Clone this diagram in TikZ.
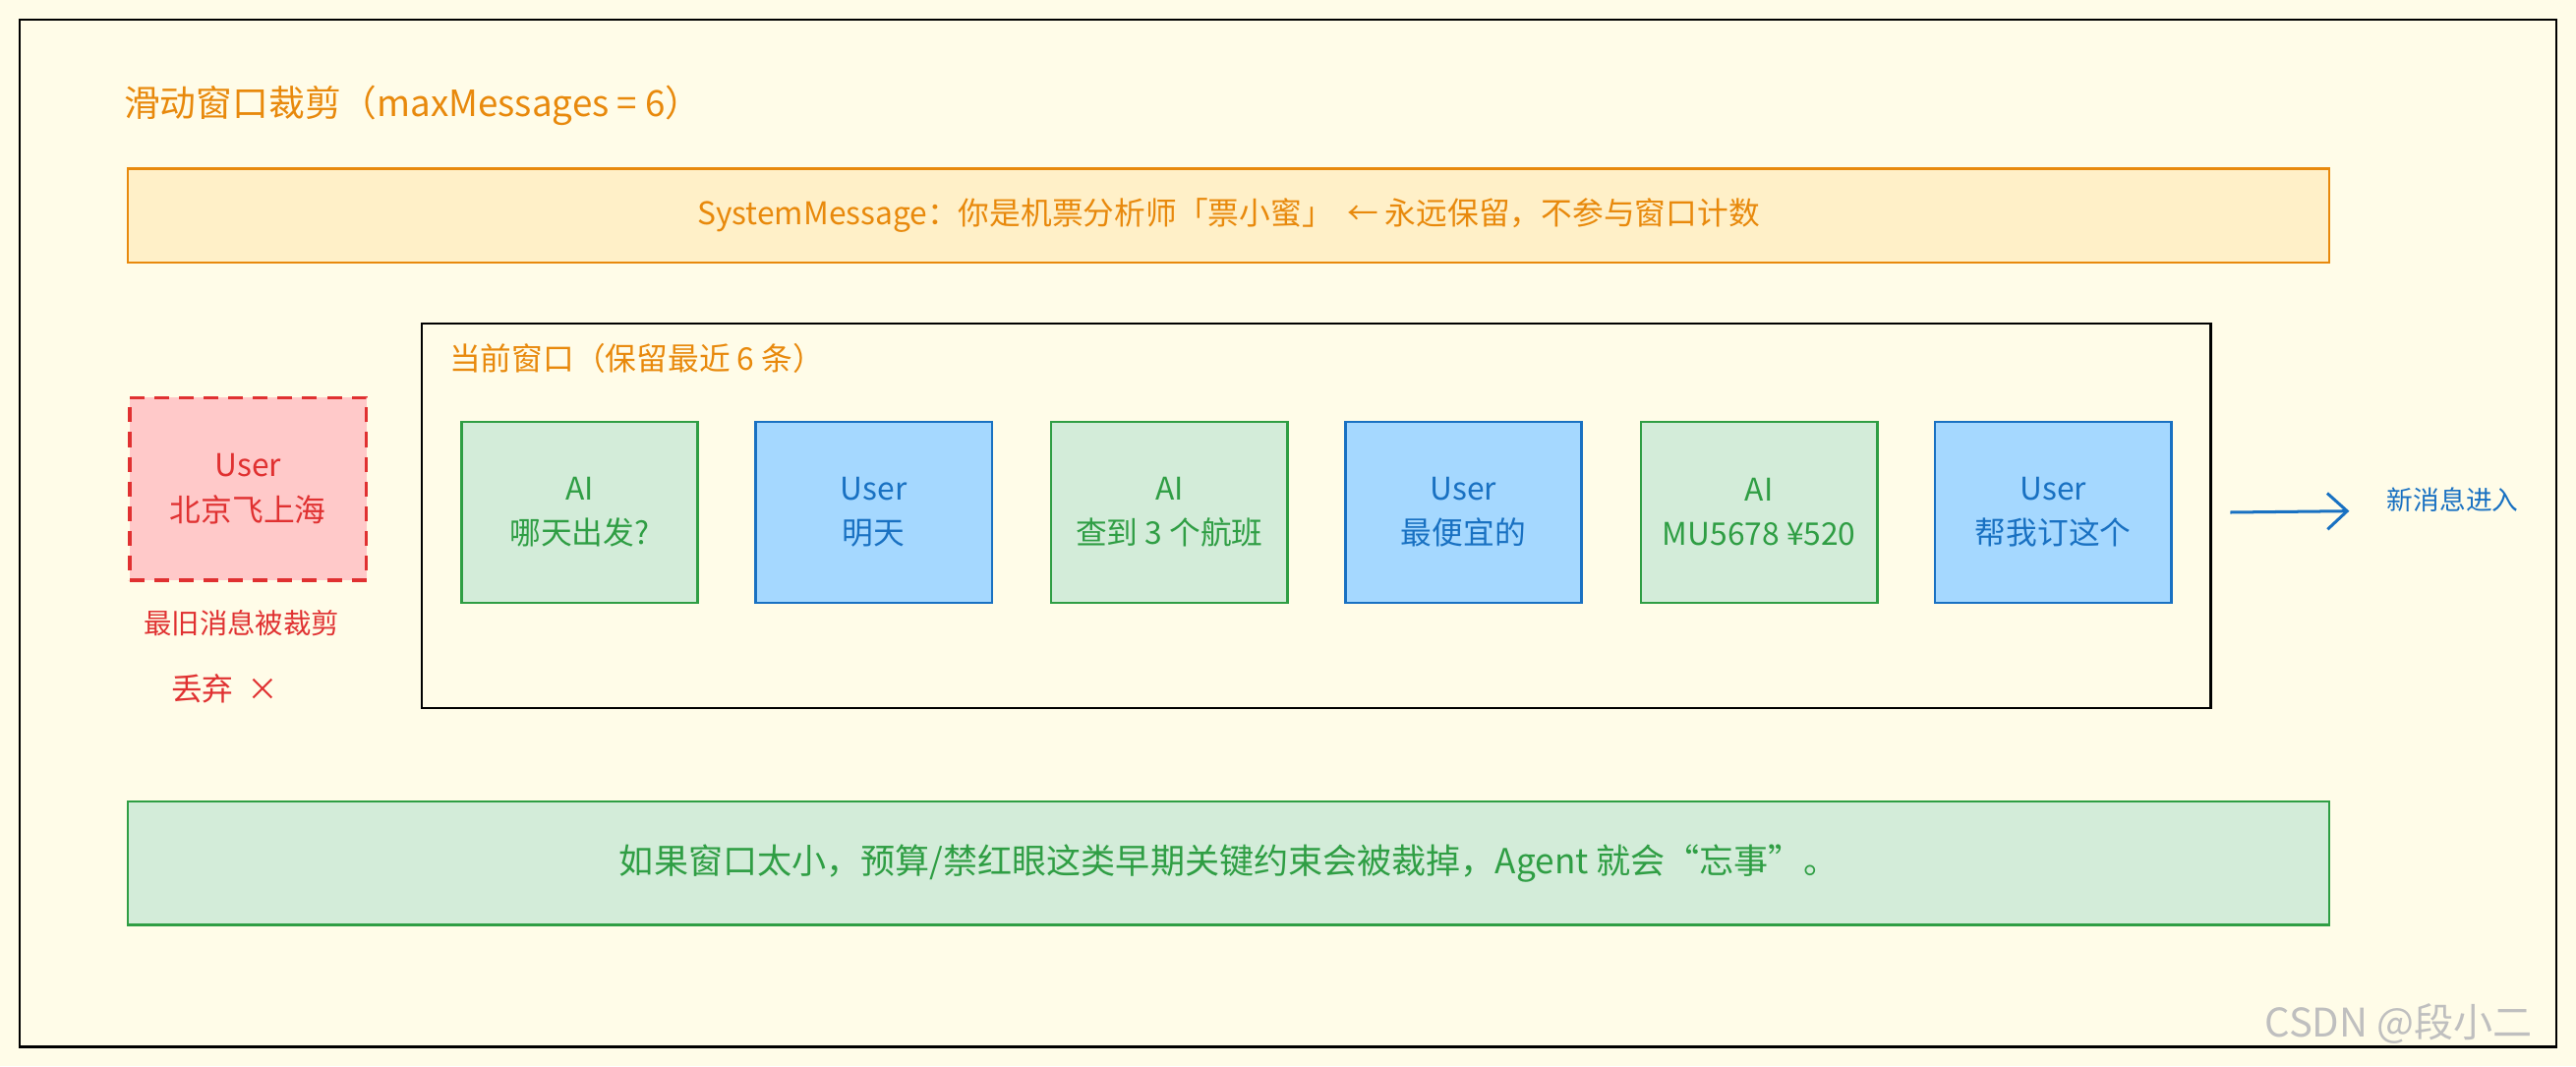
\documentclass[tikz,border=0pt]{standalone}
\usepackage{fontspec}
\setmainfont{Noto Sans CJK SC}
\usetikzlibrary{arrows.meta}
\begin{document}
\begin{tikzpicture}[x=1pt,y=-1pt,
  card/.style={minimum width=144pt,minimum height=110pt,line width=1.6pt,align=center,font=\fontsize{19}{27}\selectfont,anchor=north west},
  ai/.style={card,fill=aifill,draw=aidraw,text=aidraw},
  us/.style={card,fill=usfill,draw=usdraw,text=usdraw},
  wide/.style={line width=1.6pt,anchor=north west}]
\definecolor{bg}{HTML}{FFFCE8}
\definecolor{org}{HTML}{E8890C}
\definecolor{orgfill}{HTML}{FFF0C8}
\definecolor{aifill}{HTML}{D3ECD9}
\definecolor{aidraw}{HTML}{2F9E44}
\definecolor{usfill}{HTML}{A5D8FF}
\definecolor{usdraw}{HTML}{1971C2}
\definecolor{rd}{HTML}{E03131}
\definecolor{rdfill}{HTML}{FFC9C9}
\fill[bg] (0,0) rectangle (1568,649);
\useasboundingbox (0,0) rectangle (1568,649);
\draw[line width=1.6pt] (12,12) rectangle (1556,637);
\node[anchor=west,text=org,font=\fontsize{22}{26}\selectfont] (title) at (72,64) {滑动窗口裁剪（maxMessages = 6）};
\node[wide,draw=org,fill=orgfill,minimum width=1340pt,minimum height=57pt,text=org,font=\fontsize{19}{24}\selectfont] (sys) at (77,102) {SystemMessage：你是机票分析师「票小蜜」 \ ← 永远保留，不参与窗口计数};
\node[wide,draw=black,minimum width=1089pt,minimum height=234pt] (win) at (256,196) {};
\node[anchor=west,text=org,font=\fontsize{19}{24}\selectfont] (winlab) at (270,218) {当前窗口（保留最近 6 条）};
\node[ai] (c1) at (280,256) {AI\\哪天出发?};
\node[us] (c2) at (459,256) {User\\明天};
\node[ai] (c3) at (639,256) {AI\\查到 3 个航班};
\node[us] (c4) at (818,256) {User\\最便宜的};
\node[ai] (c5) at (998,256) {AI\\MU5678 ¥520};
\node[us] (c6) at (1177,256) {User\\帮我订这个};
\node[card,fill=rdfill,draw=rd,dash pattern=on 9pt off 6pt,line width=2pt,text=rd,minimum height=111pt] (old) at (78,241) {User\\北京飞上海};
\node[text=rd,font=\fontsize{17}{20}\selectfont] (cut) at (147,379) {最旧消息被裁剪};
\node[text=rd,font=\fontsize{19}{22}\selectfont] (drop) at (137,419) {丢弃 \ ×};
\coordinate (in) at (1430,311);
\draw[usdraw,line width=1.8pt,-{Straight Barb[length=12pt,width=22pt]}] ([xshift=35pt]c6.east) -- (in);
\node[text=usdraw,font=\fontsize{16}{20}\selectfont] (newlab) at (1493,304) {新消息进入};
\node[wide,draw=aidraw,fill=aifill,minimum width=1340pt,minimum height=75pt,text=aidraw,font=\fontsize{21}{26}\selectfont] (note) at (77,487) {如果窗口太小，预算/禁红眼这类早期关键约束会被裁掉，Agent 就会“忘事”。};
\node[text=black!25,font=\fontsize{24}{28}\selectfont] (wm) at (1460,623) {CSDN @段小二};
\end{tikzpicture}
\end{document}
